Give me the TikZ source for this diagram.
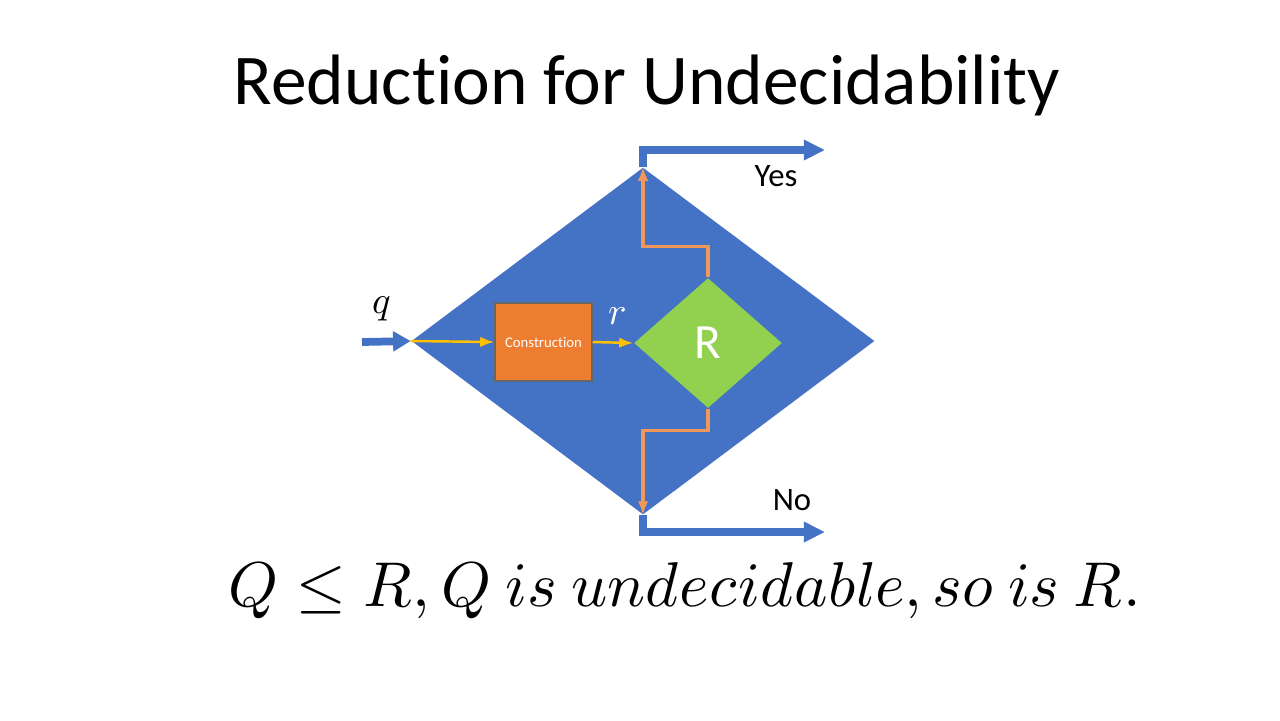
\documentclass[tikz,border=0pt]{standalone}
\usepackage{fontspec}
\setmainfont[Ligatures=NoCommon]{Carlito}
\usepackage{unicode-math}
\usetikzlibrary{shapes.geometric,arrows.meta,positioning}
\definecolor{boxblue}{HTML}{4472C4}
\definecolor{boxorange}{HTML}{ED7D31}
\definecolor{boxgreen}{HTML}{92D050}
\definecolor{lineyellow}{HTML}{FFC000}
\tikzset{
  outarrow/.style={draw=boxblue, line width=2.2pt, -{Triangle[length=6pt,width=5.5pt]}},
  inarrow/.style={draw=boxblue, line width=2.2pt, -{Triangle[length=5pt,width=5.5pt]}},
  flow/.style={draw=lineyellow, line width=0.7pt, -{Latex[length=4pt]}},
  branch/.style={draw=boxorange!80!white, line width=0.9pt, -{Latex[length=4pt]}}
}
\begin{document}
\begin{tikzpicture}[x=0.01cm,y=-0.01cm]
  \useasboundingbox (0,0) rectangle (1280,720);

  \node at (647,85) {\fontsize{20.3}{24}\selectfont Reduction for Undecidability};

  % outer machine
  \node[diamond, fill=boxblue, inner sep=0, minimum width=4.63cm, minimum height=3.47cm, aspect=1.334] (M) at (643,341) {};
  \node[fill=boxorange, draw=black!60, line width=0.4pt, minimum width=0.97cm, minimum height=0.78cm, inner sep=0,
        text=white, font=\fontsize{4.2}{5}\selectfont] (C) at (543.5,342) {Construction};
  \node[diamond, fill=boxgreen, inner sep=0, minimum width=1.48cm, minimum height=1.30cm, aspect=1.14,
        text=white, font=\fontsize{14}{16}\selectfont] (R) at (708,343) {R};

  \coordinate (qin) at (362,342);
  \draw[inarrow] (qin) -- (M.west);
  \node at (382,309) {\fontsize{11}{13}\selectfont $q$};
  \draw[flow] (M.west) -- (C.west);
  \draw[flow] (C.east) -- (R.west);
  \node[text=white] at (617,316) {\fontsize{11}{13}\selectfont $r$};

  % R answers
  \draw[branch] (R.north) -- ++(0,-31) -| (M.north);
  \draw[branch] (R.south) -- ++(0,22) -| (M.south);

  \coordinate (yes) at (825,150);
  \coordinate (no) at (825,532);
  \draw[outarrow] (M.north) |- (yes);
  \draw[outarrow] (M.south) |- (no);
  \node at (776,176) {\fontsize{9.3}{11}\selectfont Yes};
  \node at (792,500) {\fontsize{9.3}{11}\selectfont No};

  \node at (685,590) {\fontsize{18}{22}\selectfont $Q\leq R, Q\ is\ undecidable, so\ is\ R.$};
\end{tikzpicture}
\end{document}
